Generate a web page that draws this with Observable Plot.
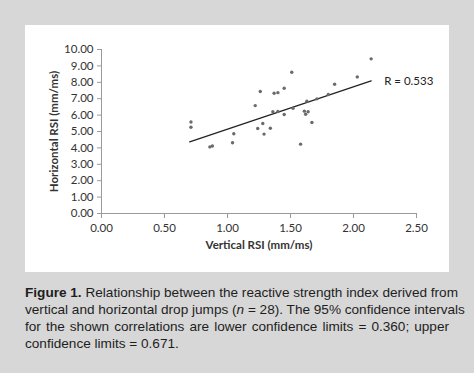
<!DOCTYPE html>
<html><head><meta charset="utf-8">
<script src="https://cdn.jsdelivr.net/npm/d3@7"></script>
<script src="https://cdn.jsdelivr.net/npm/@observablehq/plot@0.6"></script>
<style>
html,body{margin:0;padding:0;background:#d7d7d7;width:474px;height:373px;overflow:hidden;}
#box{position:absolute;left:25px;top:25px;width:424px;height:247px;background:#fff;}
#cap{position:absolute;left:25px;top:284px;width:424px;font-family:"Liberation Sans",Arial,sans-serif;font-size:13.6px;line-height:17px;color:#1e1e1e;}
#cap div{text-align:justify;text-align-last:justify;white-space:nowrap;}
#cap div.last{text-align-last:left;}
svg text{font-family:Lato,"Open Sans",sans-serif;}
</style></head><body>
<div id="box"></div>
<div id="cap">
<div><b>Figure 1.</b> Relationship between the reactive strength index derived from</div>
<div>vertical and horizontal drop jumps (<i>n</i> = 28). The 95% confidence intervals</div>
<div>for the shown correlations are lower confidence limits = 0.360; upper</div>
<div class="last">confidence limits = 0.671.</div>
</div>
<script>
const verticalRSI = [0.71,0.71,0.86,0.88,1.04,1.05,1.22,1.26,1.24,1.28,1.29,1.34,1.36,1.37,1.40,1.40,1.45,1.45,1.51,1.52,1.58,1.61,1.62,1.64,1.63,1.67,1.71,1.80,1.85,2.03,2.14];
const horizontalRSI = [5.58,5.26,4.06,4.12,4.31,4.86,6.58,7.44,5.18,5.49,4.84,5.20,6.20,7.33,7.37,6.22,7.64,6.04,8.61,6.42,4.23,6.24,6.05,6.20,6.85,5.55,6.99,7.26,7.88,8.33,9.43];
const trendX = [0.70, 2.14];
const trendY = [4.37, 8.09];
const xTicks = [0, 0.5, 1, 1.5, 2, 2.5];
const yTicks = [0,1,2,3,4,5,6,7,8,9,10];
const rLabel = "R = 0.533";

const pts = verticalRSI.map((v,i)=>({x:v,y:horizontalRSI[i]}));
const trend = trendX.map((v,i)=>({x:v,y:trendY[i]}));
const axisColor = "#9a9a9a";

const chart = Plot.plot({
  width: 424, height: 247,
  marginLeft: 76, marginRight: 33, marginTop: 24, marginBottom: 59,
  style: {background: "transparent", fontSize: "11px", color: "#333"},
  x: {domain: [0, 2.5], ticks: xTicks, tickFormat: d3.format(".2f"), label: null},
  y: {domain: [0, 10], ticks: yTicks, tickFormat: d3.format(".2f"), label: null},
  marks: [
    Plot.ruleX([0], {stroke: axisColor, strokeWidth: 1}),
    Plot.ruleY([0], {stroke: axisColor, strokeWidth: 1}),
    Plot.axisX({ticks: xTicks, tickFormat: d3.format(".2f"), tickSize: 5, tickPadding: 5, stroke: axisColor, fill: "#333", fontSize: 11.5, label: null}),
    Plot.axisY({ticks: yTicks, tickFormat: d3.format(".2f"), tickSize: 4, tickPadding: 4, stroke: axisColor, fill: "#333", fontSize: 11.5, label: null}),
    Plot.line(trend, {x: "x", y: "y", stroke: "#222", strokeWidth: 1.3}),
    Plot.dot(pts, {x: "x", y: "y", r: 1.7, fill: "#6a6a6a", stroke: "none"}),
    Plot.text([rLabel], {x: trendX[1], y: trendY[1], dx: 13, textAnchor: "start", fill: "#222", fontSize: 11.5}),
    Plot.text(["Vertical RSI (mm/ms)"], {frameAnchor: "bottom", dy: 35, textAnchor: "middle", fontWeight: "bold", fill: "#333", fontSize: 11.5}),
    Plot.text(["Horizontal RSI (mm/ms)"], {frameAnchor: "left", dx: -47, rotate: -90, textAnchor: "middle", fontWeight: "bold", fill: "#333", fontSize: 11.5})
  ]
});
document.getElementById("box").appendChild(chart);
</script>
</body></html>
